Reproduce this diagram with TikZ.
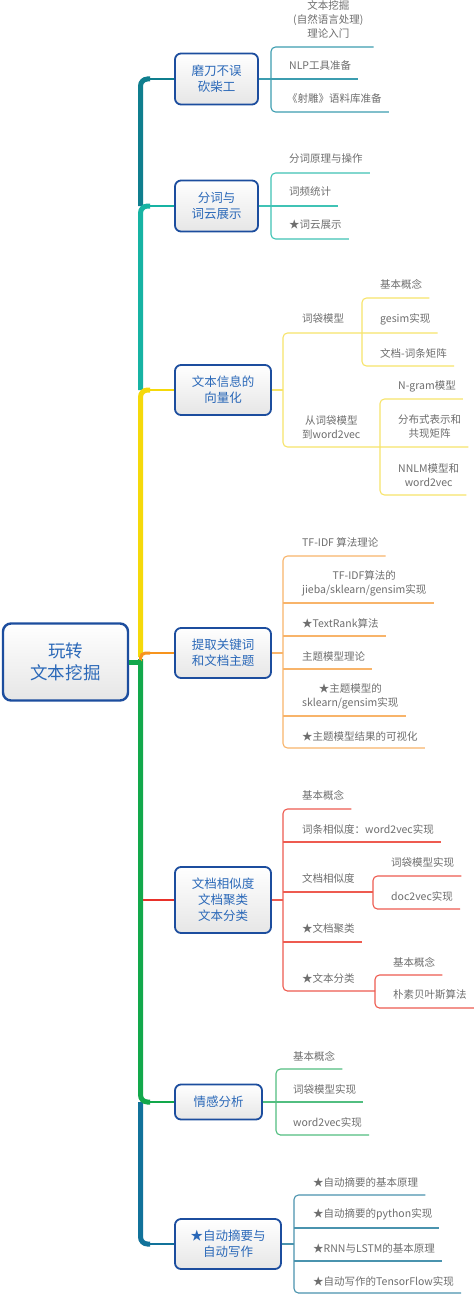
\documentclass[tikz,border=0pt]{standalone}
\usepackage{fontspec}
\setmainfont{Noto Sans CJK SC}
\usetikzlibrary{calc}
\definecolor{boxblue}{HTML}{1C4D9E}
\definecolor{topicblue}{HTML}{2A68B8}
\definecolor{boxgray}{HTML}{E6E6E6}
\definecolor{itemgray}{HTML}{6E6E6E}
\definecolor{c1}{HTML}{0F7E8E}
\definecolor{c2}{HTML}{17B3A3}
\definecolor{c3}{HTML}{F5D90A}
\definecolor{c4}{HTML}{F7941D}
\definecolor{c5}{HTML}{E8312A}
\definecolor{c6}{HTML}{12A84B}
\definecolor{c7}{HTML}{11729A}
\definecolor{s1}{HTML}{3C9DB0}
\definecolor{s2}{HTML}{40C3B5}
\definecolor{s3}{HTML}{F7E46A}
\definecolor{s4}{HTML}{F8B46A}
\definecolor{s5}{HTML}{EE5B50}
\definecolor{s6}{HTML}{52BE80}
\definecolor{s7}{HTML}{4A93AE}
\begin{document}
\begin{tikzpicture}[x=1pt,y=-1pt,
 topicbox/.style={draw=boxblue, line width=1.8pt, rounded corners=6pt, top color=white, bottom color=boxgray, text=topicblue, font=\fontsize{12.5}{16}\selectfont, align=center, inner sep=0pt},
 rootbox/.style={topicbox, line width=2.4pt, rounded corners=8pt, font=\fontsize{17.5}{21.5}\selectfont},
 leaf/.style={anchor=west, inner sep=0pt, text=itemgray, font=\fontsize{10.5}{14}\selectfont, align=center},
 subline/.style={line width=1.1pt, rounded corners=4.5pt},
 trunk/.style={line width=5pt, rounded corners=7pt},
 twig/.style={line width=2pt},
]
\fill[white] (0,0) rectangle (474,1295);
\useasboundingbox (0,0) rectangle (474,1295);

% ---------- trunk coordinates ----------
\coordinate (t1) at (150,79);
\coordinate (t2) at (150,206);
\coordinate (t3) at (150,390);
\coordinate (t4) at (150,653);
\coordinate (t6) at (150,1102);
\coordinate (t7) at (150,1244);
\coordinate (rj) at (140.5,662);

% ---------- main trunk ----------
\draw[trunk,c1] (140.5,206) |- (t1);
\draw[trunk,c2] (140.5,390) |- (t2);
\draw[trunk,c3] (140.5,657) |- (t3);
\draw[trunk,c7] (140.5,1102) |- (t7);
\draw[trunk,c6] (140.5,659) |- (t6);
\draw[line width=3pt,c4,rounded corners=5pt] (140.5,661) |- (t4);

% ---------- boxes ----------
\node[rootbox, minimum width=125pt, minimum height=77pt] (root) at (65.5,662) {玩转\\文本挖掘};
\node[topicbox, minimum width=83pt, minimum height=51pt] (b1) at (216.5,79) {磨刀不误\\砍柴工};
\node[topicbox, minimum width=83pt, minimum height=51pt] (b2) at (216.5,206) {分词与\\词云展示};
\node[topicbox, minimum width=96pt, minimum height=50pt] (b3) at (223,390) {文本信息的\\向量化};
\node[topicbox, minimum width=96pt, minimum height=50pt] (b4) at (223,653) {提取关键词\\和文档主题};
\node[topicbox, minimum width=96pt, minimum height=66pt] (b5) at (223,900) {文档相似度\\文档聚类\\文本分类};
\node[topicbox, minimum width=87pt, minimum height=35pt] (b6) at (218.5,1102) {情感分析};
\node[topicbox, minimum width=106pt, minimum height=50pt] (b7) at (228,1244) {★自动摘要与\\自动写作};

\draw[trunk,c6,rounded corners=0pt] (root.east) -- (rj);
\draw[twig,c1] (t1) -- (b1.west);
\draw[twig,c2] (t2) -- (b2.west);
\draw[twig,c3] (t3) -- (b3.west);
\draw[twig,c4] (t4) -- (b4.west);
\draw[twig,c5] (143,900) -- (b5.west);
\draw[twig,c6] (t6) -- (b6.west);
\draw[twig,c7] (t7) -- (b7.west);

% ---------- bracket coordinates ----------
\coordinate (u11) at (271,47);  \coordinate (u12) at (271,79);  \coordinate (u13) at (271,112);
\coordinate (u21) at (271,173); \coordinate (u22) at (271,206); \coordinate (u23) at (271,239);
\coordinate (u31) at (283,333); \coordinate (p3) at (283,390);  \coordinate (u32) at (283,447);
\coordinate (s311) at (362,298); \coordinate (s312) at (362,333); \coordinate (s313) at (362,366);
\coordinate (s321) at (380,399); \coordinate (s322) at (380,447); \coordinate (s323) at (380,495);
\coordinate (u41) at (283,556); \coordinate (u42) at (283,603); \coordinate (u43) at (283,636);
\coordinate (p4) at (283,653);  \coordinate (u44) at (283,669); \coordinate (u45) at (283,716);
\coordinate (u46) at (283,748);
\coordinate (u51) at (283,809); \coordinate (u52) at (283,842); \coordinate (u53) at (283,892);
\coordinate (p5) at (283,900);  \coordinate (u54) at (283,942); \coordinate (u55) at (283,991);
\coordinate (s531) at (373,876); \coordinate (s53m) at (373,892); \coordinate (s532) at (373,909);
\coordinate (s551) at (375,975); \coordinate (s55m) at (375,991); \coordinate (s552) at (375,1008);
\coordinate (u61) at (276,1069); \coordinate (u62) at (276,1102); \coordinate (u63) at (276,1135);
\coordinate (u71) at (294,1195); \coordinate (u72) at (294,1228); \coordinate (p7) at (294,1244);
\coordinate (u73) at (294,1261); \coordinate (u74) at (294,1293);

% ---------- leaf texts ----------
\node[leaf] (i11) at (293,19) {文本挖掘\\(自然语言处理)\\理论入门};
\node[leaf] (i12) at (289,66) {NLP工具准备};
\node[leaf] (i13) at (287,99) {《射雕》语料库准备};

\node[leaf] (i21) at (289,159) {分词原理与操作};
\node[leaf] (i22) at (289,192) {词频统计};
\node[leaf] (i23) at (289,225) {★词云展示};

\node[leaf] (i31) at (302,319) {词袋模型};
\node[leaf] (i311) at (380,284) {基本概念};
\node[leaf] (i312) at (380,319) {gesim实现};
\node[leaf] (i313) at (380,353) {文档-词条矩阵};
\node[leaf] (i32) at (302,427.5) {从词袋模型\\到word2vec};
\node[leaf] (i321) at (398,386) {N-gram模型};
\node[leaf] (i322) at (398,426.5) {分布式表示和\\共现矩阵};
\node[leaf] (i323) at (398,475.5) {NNLM模型和\\word2vec};

\node[leaf] (i41) at (302,542) {TF-IDF 算法理论};
\node[leaf] (i42) at (302,583) {TF-IDF算法的\\jieba/sklearn/gensim实现};
\node[leaf] (i43) at (302,623) {★TextRank算法};
\node[leaf] (i44) at (302,656) {主题模型理论};
\node[leaf] (i45) at (302,696) {★主题模型的\\sklearn/gensim实现};
\node[leaf] (i46) at (302,736) {★主题模型结果的可视化};

\node[leaf] (i51) at (302,795) {基本概念};
\node[leaf] (i52) at (302,829) {词条相似度：word2vec实现};
\node[leaf] (i53) at (302,878) {文档相似度};
\node[leaf] (i531) at (391,862) {词袋模型实现};
\node[leaf] (i532) at (391,896) {doc2vec实现};
\node[leaf] (i54) at (302,929) {★文档聚类};
\node[leaf] (i55) at (302,978) {★文本分类};
\node[leaf] (i551) at (393,962) {基本概念};
\node[leaf] (i552) at (393,995) {朴素贝叶斯算法};

\node[leaf] (i61) at (293,1056) {基本概念};
\node[leaf] (i62) at (293,1089) {词袋模型实现};
\node[leaf] (i63) at (293,1122) {word2vec实现};

\node[leaf] (i71) at (313,1182) {★自动摘要的基本原理};
\node[leaf] (i72) at (313,1214) {★自动摘要的python实现};
\node[leaf] (i73) at (313,1248) {★RNN与LSTM的基本原理};
\node[leaf] (i74) at (313,1281) {★自动写作的TensorFlow实现};

% ---------- branch 1 ----------
\draw[subline,s1] ($(i11.east|-u11)+(10,0)$) -- (u11) -- (u13) -- ($(i13.east|-u13)+(7,0)$);
\draw[subline,s1] (b1.east|-u12) -- ($(i12.east|-u12)+(7,0)$);
% ---------- branch 2 ----------
\draw[subline,s2] ($(i21.east|-u21)+(7,0)$) -- (u21) -- (u23) -- ($(i23.east|-u23)+(7,0)$);
\draw[subline,s2] (b2.east|-u22) -- ($(i22.east|-u22)+(7,0)$);
% ---------- branch 3 ----------
\draw[subline,s3] (b3.east|-p3) -- (p3);
\draw[subline,s3] ($(i312.east|-s312)+(7,0)$) -- (u31) -- (u32) -- ($(i322.east|-s322)+(7,0)$);
\draw[subline,s3] ($(i311.east|-s311)+(7,0)$) -- (s311) -- (s313) -- ($(i313.east|-s313)+(7,0)$);
\draw[subline,s3] ($(i321.east|-s321)+(7,0)$) -- (s321) -- (s323) -- ($(i323.east|-s323)+(7,0)$);
% ---------- branch 4 ----------
\draw[subline,s4] (b4.east|-p4) -- (p4);
\draw[subline,s4] ($(i41.east|-u41)+(7,0)$) -- (u41) -- (u46) -- ($(i46.east|-u46)+(7,0)$);
\draw[subline,s4] (u42) -- ($(i42.east|-u42)+(7,0)$);
\draw[subline,s4] (u43) -- ($(i43.east|-u43)+(7,0)$);
\draw[subline,s4] (u44) -- ($(i44.east|-u44)+(7,0)$);
\draw[subline,s4] (u45) -- ($(i45.east|-u45)+(7,0)$);
% ---------- branch 5 ----------
\draw[subline,s5] (b5.east|-p5) -- (p5);
\draw[subline,s5] ($(i51.east|-u51)+(7,0)$) -- (u51) -- (u55) -- (s55m);
\draw[subline,s5] (u52) -- ($(i52.east|-u52)+(7,0)$);
\draw[subline,s5] (u53) -- (s53m);
\draw[subline,s5] (u54) -- ($(i54.east|-u54)+(7,0)$);
\draw[subline,s5] ($(i531.east|-s531)+(7,0)$) -- (s531) -- (s532) -- ($(i532.east|-s532)+(7,0)$);
\draw[subline,s5] ($(i551.east|-s551)+(7,0)$) -- (s551) -- (s552) -- ($(i552.east|-s552)+(7,0)$);
% ---------- branch 6 ----------
\draw[subline,s6] ($(i61.east|-u61)+(7,0)$) -- (u61) -- (u63) -- ($(i63.east|-u63)+(7,0)$);
\draw[subline,s6] (b6.east|-u62) -- ($(i62.east|-u62)+(7,0)$);
% ---------- branch 7 ----------
\draw[subline,s7] (b7.east|-p7) -- (p7);
\draw[subline,s7] ($(i71.east|-u71)+(7,0)$) -- (u71) -- (u74) -- ($(i74.east|-u74)+(7,0)$);
\draw[subline,s7] (u72) -- ($(i72.east|-u72)+(7,0)$);
\draw[subline,s7] (u73) -- ($(i73.east|-u73)+(7,0)$);
\end{tikzpicture}
\end{document}
